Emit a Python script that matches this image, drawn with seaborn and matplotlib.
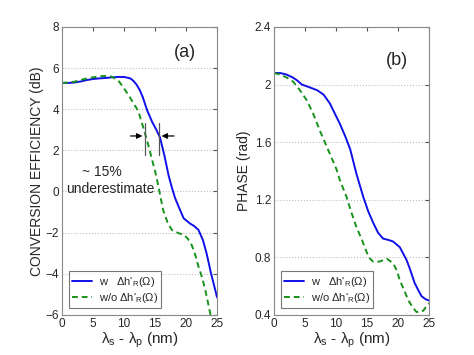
import pandas as pd
import matplotlib
matplotlib.use("Agg")
import matplotlib.pyplot as plt
import seaborn as sns

# Conversion efficiency (dB) vs wavelength detuning (nm)
eff_x_w = [0, 1, 2, 3, 4, 5, 6, 7, 8, 9, 10, 11, 11.5, 12, 12.5, 13, 13.7, 14.5, 15.2, 15.8, 16.5, 17.2, 17.7, 18.2,
           18.8, 19.6, 20.6, 21.3, 22.0, 22.7, 23.3, 24.0, 24.5, 25]
eff_y_w = [5.28, 5.28, 5.3, 5.35, 5.42, 5.47, 5.5, 5.52, 5.55, 5.57, 5.57, 5.5, 5.38, 5.2, 4.95, 4.6, 3.96, 3.4, 3.0, 2.62,
           1.75, 0.75, 0.2, -0.3, -0.74, -1.3, -1.55, -1.68, -1.87, -2.35, -3.0, -3.95, -4.55, -5.15]
eff_x_wo = [0, 1, 2, 3, 4, 5, 6, 7, 7.5, 8, 9, 9.8, 10.5, 11, 11.5, 12.3, 13.0, 13.4, 14.0, 14.5, 15.0, 15.5, 16.3, 17.0,
            17.7, 18.8, 19.6, 20.3, 20.9, 21.5, 22.0, 22.6, 23.1, 23.6, 24.2]
eff_y_wo = [5.28, 5.3, 5.34, 5.42, 5.5, 5.55, 5.6, 5.62, 5.62, 5.58, 5.42, 5.1, 4.78, 4.55, 4.3, 3.9, 3.2, 2.8, 2.15,
            1.55, 1.0, 0.3, -0.9, -1.5, -1.87, -2.03, -2.1, -2.3, -2.6, -3.1, -3.65, -4.2, -4.8, -5.5, -6.4]

# Phase (rad) vs wavelength detuning (nm)
ph_x_w = [0, 1, 2, 3, 3.7, 4.5, 5.8, 7, 8, 9, 10.6, 11.5, 12.3, 13.3, 14.4, 15.2, 16, 16.8, 17.6, 18.5, 19.2, 20.3,
          21.4, 22.0, 22.7, 23.3, 23.8, 24.4, 25]
ph_y_w = [2.08, 2.08, 2.07, 2.05, 2.03, 2.0, 1.98, 1.96, 1.93, 1.87, 1.73, 1.64, 1.55, 1.38, 1.22, 1.12, 1.04, 0.97, 0.93,
          0.92, 0.91, 0.87, 0.78, 0.71, 0.62, 0.57, 0.53, 0.51, 0.5]
ph_x_wo = [0, 1, 2, 3.1, 4.2, 5.3, 6.3, 7.4, 9, 10.1, 10.6, 11.7, 12.5, 13.3, 14.2, 15, 15.5, 16, 17, 18.2, 19.2, 19.8,
           20.3, 21, 21.7, 22.4, 23, 23.6, 24.1, 24.6, 25]
ph_y_wo = [2.08, 2.07, 2.05, 2.02, 1.96, 1.89, 1.8, 1.68, 1.52, 1.41, 1.34, 1.22, 1.11, 1.01, 0.92, 0.83, 0.79, 0.77,
           0.77, 0.79, 0.76, 0.71, 0.64, 0.57, 0.5, 0.45, 0.42, 0.42, 0.43, 0.46, 0.48]

x_ticks = [0, 5, 10, 15, 20, 25]
eff_ticks = [-6, -4, -2, 0, 2, 4, 6, 8]
ph_ticks = [0.4, 0.8, 1.2, 1.6, 2.0, 2.4]
ph_labels = ["0.4", "0.8", "1.2", "1.6", "2", "2.4"]

sns.set_style("white")
plt.rcParams["font.family"] = ["Liberation Sans", "DejaVu Sans"]
plt.rcParams["mathtext.fontset"] = "custom"
plt.rcParams["mathtext.rm"] = "Liberation Sans"
plt.rcParams["mathtext.default"] = "regular"

blue = "#1010e8"
green = "#17921a"
lab_w = r"w   $\Delta$h'$_R$($\Omega$)"
lab_wo = r"w/o $\Delta$h'$_R$($\Omega$)"

fig = plt.figure(figsize=(4.74, 3.55), dpi=100)
ax1 = fig.add_axes([0.131, 0.113, 0.327, 0.811])
ax2 = fig.add_axes([0.578, 0.113, 0.327, 0.811])

sns.lineplot(x=eff_x_w, y=eff_y_w, ax=ax1, color=blue, lw=1.4, label=lab_w, sort=False)
sns.lineplot(x=eff_x_wo, y=eff_y_wo, ax=ax1, color=green, lw=1.4, label=lab_wo, sort=False)
ax1.lines[1].set_dashes([3, 2])
sns.lineplot(x=ph_x_w, y=ph_y_w, ax=ax2, color=blue, lw=1.4, label=lab_w, sort=False)
sns.lineplot(x=ph_x_wo, y=ph_y_wo, ax=ax2, color=green, lw=1.4, label=lab_wo, sort=False)
ax2.lines[1].set_dashes([3, 2])

for ax, yt, ylim in [(ax1, eff_ticks, (-6, 8)), (ax2, ph_ticks, (0.4, 2.4))]:
    ax.set_xlim(0, 25)
    ax.set_ylim(*ylim)
    ax.set_xticks(x_ticks)
    ax.set_yticks(yt)
    ax.yaxis.grid(True, ls=":", color="#c0c0c0", lw=0.8)
    ax.tick_params(direction="in", top=True, right=True, length=3, labelsize=8.5, pad=2, color="#555555")
    for s in ax.spines.values():
        s.set_color("#888888")
        s.set_linewidth(0.8)
    ax.set_xlabel(r"$\lambda_s$ - $\lambda_p$ (nm)", fontsize=11, labelpad=1)
    leg = ax.legend(loc="lower left", fontsize=8, handlelength=1.8, handletextpad=0.6, borderaxespad=0.6,
                    fancybox=False, edgecolor="#555555", labelspacing=0.2, borderpad=0.3)
    leg.get_frame().set_linewidth(0.8)

ax2.set_yticklabels(ph_labels)
ax1.set_ylabel("CONVERSION EFFICIENCY (dB)", fontsize=10, labelpad=1)
ax2.set_ylabel("PHASE (rad)", fontsize=10, labelpad=3)

ax1.text(19.8, 6.75, "(a)", fontsize=13, ha="center", va="center")
ax2.text(19.8, 2.17, "(b)", fontsize=13, ha="center", va="center")

# annotation of the underestimate
ax1.plot([13.4, 13.4], [1.78, 3.33], color="#555555", lw=0.9)
ax1.plot([15.6, 15.6], [1.78, 3.33], color="#555555", lw=0.9)
ax1.annotate("", xy=(13.4, 2.7), xytext=(10.6, 2.7),
             arrowprops=dict(arrowstyle="-|>", color="black", lw=0.9, mutation_scale=8))
ax1.annotate("", xy=(15.6, 2.7), xytext=(18.5, 2.7),
             arrowprops=dict(arrowstyle="-|>", color="black", lw=0.9, mutation_scale=8))
ax1.text(6.45, 0.95, "~ 15%", fontsize=10, ha="center", va="center")
ax1.text(7.7, 0.1, "underestimate", fontsize=10, ha="center", va="center")

fig.savefig("out.png", dpi=100)
